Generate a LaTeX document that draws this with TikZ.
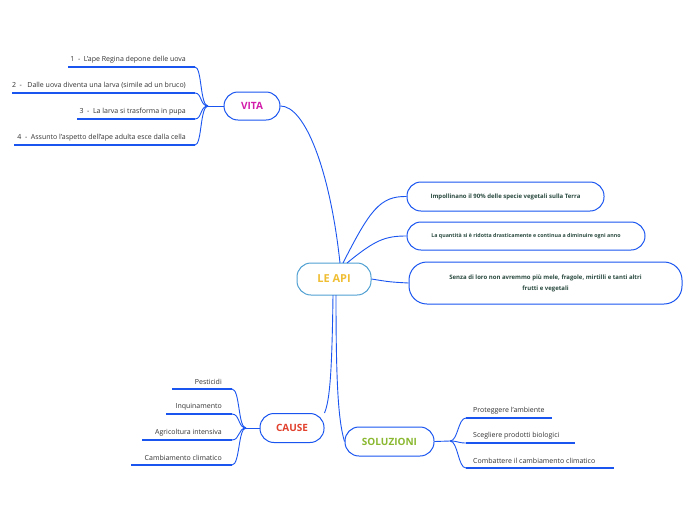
\documentclass[tikz,border=0pt]{standalone}
\usepackage{fontspec}
\setmainfont{Open Sans}
\begin{document}
\begin{tikzpicture}[x=1pt,y=-1pt,
  conn/.style={draw=blueB,line width=0.9pt},
  ul/.style={draw=blueB,line width=1.4pt},
  leaf/.style={font=\fontsize{7}{8}\selectfont,text=black!80,inner sep=1pt},
  topic/.style={draw=blueB,line width=1pt,rounded corners=14pt,font=\fontsize{10}{12}\selectfont\bfseries,inner sep=0pt},
  rbox/.style={draw=blueB,line width=1pt,rounded corners=14pt,font=\fontsize{6}{11}\selectfont\bfseries,text=tgreen,inner sep=0pt,align=center}]
\definecolor{blueB}{HTML}{1A55F0}
\definecolor{tgreen}{HTML}{2A4A40}
\useasboundingbox[fill=white] (0,0) rectangle (696,520);
% central
\node[draw={rgb,255:red,80;green,160;blue,210},line width=1pt,rounded corners=14pt,minimum width=74pt,minimum height=32pt,text={rgb,255:red,240;green,190;blue,50},font=\fontsize{11}{12}\selectfont\bfseries] (api) at (334,279) {LE API};
\node[topic,minimum width=56pt,minimum height=28pt,text={rgb,255:red,210;green,30;blue,170}] (vita) at (252,106) {VITA};
\node[topic,minimum width=64pt,minimum height=29pt,text={rgb,255:red,225;green,65;blue,45}] (cause) at (292,428) {CAUSE};
\node[topic,minimum width=89pt,minimum height=29pt,text={rgb,255:red,138;green,184;blue,48}] (sol) at (389.5,441.5) {SOLUZIONI};
\node[rbox,minimum width=197pt,minimum height=29pt] (b1) at (505.5,196.5) {Impollinano il 90\% delle specie vegetali sulla Terra};
\node[rbox,minimum width=238pt,minimum height=28pt,font=\fontsize{5.3}{11}\selectfont\bfseries] (b2) at (526,236) {La quantità si è ridotta drasticamente e continua a diminuire ogni anno};
\node[rbox,minimum width=273pt,minimum height=42pt,rounded corners=18pt] (b3) at (545.5,283) {Senza di loro non avremmo più mele, fragole, mirtilli e tanti altri\\frutti e vegetali};
% main connectors
\coordinate (at) at (340,263);
\draw[conn] (at) .. controls (330,170) and (305,106) .. (vita.east);
\draw[conn] (343,263) .. controls (370,210) and (380,196) .. (b1.west);
\draw[conn] (347,263) .. controls (375,240) and (385,236) .. (b2.west);
\draw[conn] (api.east) .. controls (390,282) .. (b3.west);
\draw[conn] (333,295) .. controls (332,370) and (330,400) .. (cause.north east);
\draw[conn] (336,295) .. controls (336,380) and (338,420) .. (sol.west);
% VITA leaves
\coordinate (vh) at (208,106);
\draw[conn] (vita.west) -- (vh);
\foreach \n/\y/\xl/\t in {1/67/68/{1\ \ -\ \ L'ape Regina depone delle uova},2/93/12/{2\ \ -\ \ \ Dalle uova diventa una larva (simile ad un bruco)},3/119/77/{3\ \ -\ \ La larva si trasforma in pupa},4/145/14/{4\ \ -\ \ Assunto l'aspetto dell'ape adulta esce dalla cella}}{
  \coordinate (ve\n) at (195,\y);
  \coordinate (vs\n) at (\xl,\y);
  \draw[ul] (vs\n) -- (ve\n);
  \node[leaf,anchor=south east] (vt\n) at (187,\y-3) {\t};
  \draw[conn] (vh) .. controls (200,106) and (202,\y) .. (ve\n);
}
% CAUSE leaves
\coordinate (ch) at (246,428);
\draw[conn] (cause.west) -- (ch);
\foreach \n/\y/\xl/\t in {1/389/172/Pesticidi,2/414/166/Inquinamento,3/440/142/Agricoltura intensiva,4/465/131/Cambiamento climatico}{
  \coordinate (ce\n) at (232,\y);
  \coordinate (cs\n) at (\xl,\y);
  \draw[ul] (cs\n) -- (ce\n);
  \node[leaf,anchor=south east] (ct\n) at (223,\y-3) {\t};
  \draw[conn] (ch) .. controls (238,428) and (240,\y) .. (ce\n);
}
% SOLUZIONI leaves
\coordinate (sh) at (450,441);
\draw[conn] (sol.east) -- (sh);
\foreach \n/\y/\xr/\t in {1/418/552/Proteggere l'ambiente,2/443/575/Scegliere prodotti biologici,3/468/614/Combattere il cambiamento climatico}{
  \coordinate (se\n) at (466,\y);
  \coordinate (sr\n) at (\xr,\y);
  \draw[ul] (se\n) -- (sr\n);
  \node[leaf,anchor=south west] (st\n) at (472,\y-3) {\t};
  \draw[conn] (sh) .. controls (458,441) and (458,\y) .. (se\n);
}
\end{tikzpicture}
\end{document}
